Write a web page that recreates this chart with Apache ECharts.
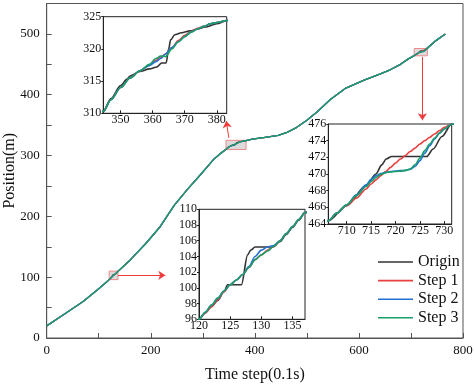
<!DOCTYPE html>
<html><head><meta charset="utf-8">
<script src="https://cdn.jsdelivr.net/npm/echarts@6/dist/echarts.min.js"></script>
<style>html,body{margin:0;padding:0;background:#fff}#c{width:474px;height:388px}</style>
</head><body><div id="c"></div><script>
// ---- data ----
const seriesNames = ['Origin', 'Step 1', 'Step 2', 'Step 3'];
// coarse trajectory shared by all series outside the zoom windows
const coarseT = [0, 35, 70, 100, 115, 160, 190, 218, 245, 270, 295, 320, 335, 395, 420, 445, 462, 478, 500, 520, 545, 575, 610, 640, 660, 680, 695, 748, 766];
const coarseY = [20, 40, 60, 81, 92, 128, 155, 183, 218, 244, 268, 293, 304, 327, 330, 333, 338, 345, 358, 372, 392, 411, 424, 434, 441, 450, 459, 489, 500];

// window A: t 120-137
const winA_OriginT = [120, 121, 122, 123, 124, 124.6, 126.8, 127.8, 128.3, 129, 131.9, 133, 134, 135, 136, 137];
const winA_OriginY = [96, 96.8, 97.6, 98.4, 99.5, 100.4, 100.4, 104.2, 104.8, 105.2, 105.2, 105.9, 106.8, 107.7, 108.6, 109.6];
const winA_T = [120, 121, 122, 123, 124, 125, 126, 127, 128, 129, 130, 131, 132, 133, 134, 135, 136, 137];
const winA_Step1 = [96, 96.8, 97.6, 98.5, 99.5, 100.4, 101.0, 101.7, 102.6, 103.6, 104.2, 104.8, 105.3, 106.0, 106.9, 107.8, 108.7, 109.6];
const winA_Step2 = [96, 96.9, 97.8, 98.7, 99.6, 100.4, 101.0, 101.7, 102.7, 104.0, 104.8, 105.2, 105.4, 106.0, 106.9, 107.8, 108.7, 109.6];
const winA_Step3 = [96, 96.9, 97.8, 98.7, 99.6, 100.4, 101.0, 101.7, 102.6, 103.6, 104.2, 104.7, 105.3, 106.0, 106.9, 107.8, 108.7, 109.6];

// window B: t 344.6-383.1
const winB_OriginT = [344.6, 347, 350, 352, 353, 356, 359, 361.3, 362.8, 364.2, 365, 365.6, 366.9, 369, 371.7, 374, 376.4, 380, 383.1];
const winB_OriginY = [310.3, 312.3, 314.3, 315.3, 315.8, 316.5, 316.9, 317.2, 317.8, 317.8, 320, 321.4, 322.2, 322.5, 322.8, 323.1, 323.4, 323.9, 324.4];
const winB_T = [344.6, 347, 350, 353, 356, 359, 361, 362.5, 364, 366, 368, 370, 372, 374, 376, 378, 380, 383.1];
const winB_Step1 = [310.3, 312.1, 314.0, 315.5, 316.6, 317.5, 318.2, 318.7, 319.2, 320.2, 321.3, 322.1, 322.7, 323.2, 323.5, 323.9, 324.1, 324.4];
const winB_Step2 = [310.3, 312.1, 314.0, 315.5, 316.6, 317.4, 318.0, 318.5, 319.2, 320.2, 321.1, 321.9, 322.6, 323.1, 323.5, 323.9, 324.1, 324.4];
const winB_Step3 = [310.3, 312.1, 314.0, 315.5, 316.6, 317.6, 318.5, 318.9, 318.8, 320.0, 321.1, 321.9, 322.6, 323.1, 323.5, 323.9, 324.1, 324.4];

// window C: t 706.25-731.5
const winC_OriginT = [706.25, 710, 714, 716, 717.2, 718.1, 719.2, 726.4, 727.7, 729.5, 731.5];
const winC_OriginY = [464.4, 466.2, 468.6, 470.0, 471.1, 471.8, 472.1, 472.1, 473.0, 474.5, 476];
const winC_T = [706.25, 708, 710, 712, 714, 715, 716, 717, 718, 719, 720, 721, 722, 723, 724, 725, 726, 727, 728, 729, 730, 731.5];
const winC_Step1 = [464.4, 465.3, 466.2, 467.1, 468.2, 468.8, 469.3, 469.8, 470.3, 470.8, 471.3, 471.8, 472.2, 472.7, 473.1, 473.6, 474.0, 474.4, 474.8, 475.2, 475.6, 476];
const winC_Step2 = [464.4, 465.3, 466.3, 467.5, 468.7, 469.35, 469.8, 470.05, 470.2, 470.3, 470.35, 470.4, 470.45, 470.55, 470.9, 471.6, 472.5, 473.4, 474.2, 474.9, 475.4, 476];
const winC_Step3 = [464.4, 465.3, 466.3, 467.4, 468.5, 469.1, 469.6, 469.95, 470.15, 470.25, 470.3, 470.35, 470.4, 470.6, 471.1, 471.9, 472.8, 473.6, 474.3, 474.9, 475.4, 476];

// zoom windows [tMin, tMax, yMin, yMax]
const zoomA = [120, 137, 96, 110];
const zoomB = [344.6, 383.1, 310, 325];
const zoomC = [706.25, 731.5, 464, 476];
const xTicksA = [120, 125, 130, 135];
const xTicksB = [350, 360, 370, 380];
const xTicksC = [710, 715, 720, 725, 730];

// ---- build ----
function build(wins) {
  const pts = coarseT.map((t, i) => [t, coarseY[i]]);
  wins.forEach(([T, Y]) => T.forEach((t, i) => pts.push([t, Y[i]])));
  pts.sort((a, b) => a[0] - b[0]);
  return pts;
}
const fullData = {
  'Origin': build([[winA_OriginT, winA_OriginY], [winB_OriginT, winB_OriginY], [winC_OriginT, winC_OriginY]]),
  'Step 1': build([[winA_T, winA_Step1], [winB_T, winB_Step1], [winC_T, winC_Step1]]),
  'Step 2': build([[winA_T, winA_Step2], [winB_T, winB_Step2], [winC_T, winC_Step2]]),
  'Step 3': build([[winA_T, winA_Step3], [winB_T, winB_Step3], [winC_T, winC_Step3]])
};
const colors = { 'Origin': '#333333', 'Step 1': '#e8413f', 'Step 2': '#2471d6', 'Step 3': '#1a9e6a' };
const FONT = 'Liberation Serif';

const grids = [
  { left: 46.7, top: 3.5, width: 416.3, height: 334.5, outerBoundsMode: 'none', containLabel: false, show: true, borderColor: '#555', borderWidth: 1, z: 0 },
  { left: 103.3, top: 16.7, width: 123.4, height: 96.6, outerBoundsMode: 'none', containLabel: false, show: true, backgroundColor: '#fff', borderColor: '#222', borderWidth: 1, zlevel: 1 },
  { left: 328.3, top: 124, width: 123.4, height: 100, outerBoundsMode: 'none', containLabel: false, show: true, backgroundColor: '#fff', borderColor: '#222', borderWidth: 1, zlevel: 1 },
  { left: 199, top: 209.3, width: 106, height: 110, outerBoundsMode: 'none', containLabel: false, show: true, backgroundColor: '#fff', borderColor: '#222', borderWidth: 1, zlevel: 1 }
];

function insetX(idx, win, ticks) {
  return {
    type: 'value', gridIndex: idx, min: win[0], max: win[1], zlevel: 1,
    axisLine: { lineStyle: { color: '#222', width: 1 } },
    axisTick: { customValues: ticks, inside: true, length: 3, lineStyle: { color: '#222' } },
    axisLabel: { customValues: ticks, margin: 1, fontFamily: FONT, fontSize: 12, color: '#111' },
    splitLine: { show: false }
  };
}
function insetY(idx, win, interval) {
  return {
    type: 'value', gridIndex: idx, min: win[2], max: win[3], interval: interval, zlevel: 1,
    axisLine: { lineStyle: { color: '#222', width: 1 } },
    axisTick: { inside: false, length: 2, lineStyle: { color: '#222' } },
    axisLabel: { margin: 2, fontFamily: FONT, fontSize: 12, color: '#111' },
    splitLine: { show: false }
  };
}

const xAxes = [
  {
    type: 'value', gridIndex: 0, min: 0, max: 800, interval: 200,
    name: 'Time step(0.1s)', nameLocation: 'middle', nameGap: 29,
    nameTextStyle: { fontFamily: FONT, fontSize: 16, color: '#111' },
    axisLine: { lineStyle: { color: '#555', width: 1 } },
    axisTick: { inside: true, length: 5, lineStyle: { color: '#555' } },
    minorTick: { show: true, splitNumber: 2, length: 5, lineStyle: { color: '#555' } },
    axisLabel: { margin: 6, fontFamily: FONT, fontSize: 13, color: '#111' },
    splitLine: { show: false }
  },
  insetX(1, zoomB, xTicksB), insetX(2, zoomC, xTicksC), insetX(3, zoomA, xTicksA)
];
const yAxes = [
  {
    type: 'value', gridIndex: 0, min: 0, max: 550, interval: 100,
    name: 'Position(m)', nameLocation: 'middle', nameGap: 36.5,
    nameTextStyle: { fontFamily: FONT, fontSize: 16, color: '#111', verticalAlign: 'middle' },
    nameMoveOverlap: false,
    axisLine: { lineStyle: { color: '#555', width: 1 } },
    axisTick: { inside: true, length: 5, lineStyle: { color: '#555' } },
    minorTick: { show: true, splitNumber: 2, length: 5, lineStyle: { color: '#555' } },
    axisLabel: { margin: 7, fontFamily: FONT, fontSize: 13, color: '#111', showMaxLabel: false },
    splitLine: { show: false }
  },
  insetY(1, zoomB, 5), insetY(2, zoomC, 2), insetY(3, zoomA, 2)
];

const series = [];
for (let g = 0; g < 4; g++) {
  seriesNames.forEach((name, k) => {
    const s = {
      type: 'line', name: name, xAxisIndex: g, yAxisIndex: g,
      data: fullData[name], symbol: 'none', showSymbol: false,
      smooth: g === 0 ? false : 0.3, smoothMonotone: 'x', clip: true,
      lineStyle: { color: colors[name], width: g === 0 ? 1.3 : 1.6 },
      itemStyle: { color: colors[name] },
      zlevel: g === 0 ? 0 : 1, z: 2 + k, animation: false
    };
    if (g === 0 && name === 'Step 3') {
      s.markArea = {
        silent: true,
        itemStyle: { color: 'rgba(190,190,190,0.55)', borderColor: '#ee8a8a', borderWidth: 1 },
        data: [zoomA, zoomB, zoomC].map(w => [{ coord: [w[0], w[2]] }, { coord: [w[1], w[3]] }])
      };
      s.markLine = {
        silent: true, symbol: ['none', 'arrow'], symbolSize: 7,
        label: { show: false },
        lineStyle: { color: '#ee3b3b', width: 1, type: 'solid' },
        data: [
          [{ coord: [137, 103] }, { coord: [228, 103] }],
          [{ coord: [350, 329] }, { coord: [345, 357] }],
          [{ coord: [722, 462] }, { coord: [722, 358] }]
        ]
      };
    }
    series.push(s);
  });
}

const chart = echarts.init(document.getElementById('c'), null, { renderer: 'canvas' });
chart.setOption({
  animation: false,
  backgroundColor: '#fff',
  grid: grids,
  xAxis: xAxes,
  yAxis: yAxes,
  legend: {
    data: seriesNames, orient: 'vertical', left: 373, top: 249,
    itemWidth: 35, itemHeight: 10, itemGap: 2.6, icon: 'path://M0,4.2L35,4.2L35,5.8L0,5.8Z',
    textStyle: { fontFamily: FONT, fontSize: 16, color: '#111' }
  },
  series: series
});
</script></body></html>
